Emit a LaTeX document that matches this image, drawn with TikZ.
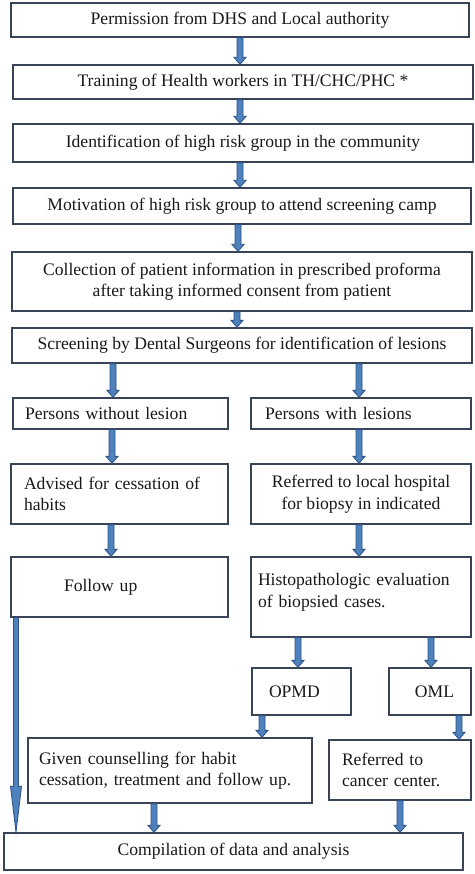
\documentclass[tikz,border=0pt]{standalone}
\usepackage{fontspec}
\setmainfont{Liberation Serif}
\usetikzlibrary{calc}
\definecolor{boxline}{RGB}{58,68,88}
\definecolor{arrfill}{RGB}{79,129,189}
\definecolor{arrline}{RGB}{44,82,135}
\definecolor{txt}{RGB}{25,25,25}
% #1 x, #2 from node, #3 to node, #4 half shaft, #5 half head, #6 head length
\newcommand\blockarr[6]{%
  \filldraw[arrstyle] let \p1=(#2.south), \p2=(#3.north), \p3=(#1,0) in
  (\x3-#4,\y1) -- (\x3+#4,\y1) -- (\x3+#4,\y2+#6) -- (\x3+#5,\y2+#6) --
  (\x3,\y2) -- (\x3-#5,\y2+#6) -- (\x3-#4,\y2+#6) -- cycle;}
\begin{document}
\begin{tikzpicture}[x=1pt,y=-1pt,
  box/.style={draw=boxline, line width=1.3pt, rectangle, inner sep=0pt,
    font=\fontsize{17.6}{21.5}\selectfont, text=txt},
  arrstyle/.style={fill=arrfill, draw=arrline, line width=0.8pt, line join=miter}]
\useasboundingbox[fill=white] (0,0) rectangle (474,874);

\node[box, minimum width=458pt, minimum height=34pt, align=center] (b1) at (240,20)
  {Permission from DHS and Local authority};
\node[box, minimum width=460pt, minimum height=34pt, align=center] (b2) at (243,82)
  {Training of Health workers in TH/CHC/PHC *};
\node[box, minimum width=460pt, minimum height=38pt, align=center] (b3) at (243,143)
  {Identification of high risk group in the community};
\node[box, minimum width=458pt, minimum height=36pt, align=center] (b4) at (242,206)
  {Motivation of high risk group to attend screening camp};
\node[box, minimum width=460pt, minimum height=59pt, align=center] (b5) at (242,281.5)
  {Collection of patient information in prescribed proforma\\after taking informed consent from patient};
\node[box, minimum width=460pt, minimum height=35pt, align=center] (b6) at (242,345.5)
  {Screening by Dental Surgeons for identification of lesions};

\node[box, minimum width=215pt, minimum height=31pt, text width=191pt, align=left] (b7l) at (120.5,413.5)
  {Persons without lesion};
\node[box, minimum width=220pt, minimum height=31pt, text width=192pt, align=left] (b7r) at (361,413.5)
  {Persons with lesions};

\node[box, minimum width=217pt, minimum height=60pt, text width=191pt, align=left] (b8l) at (119.5,494)
  {Advised for cessation of\\habits};
\node[box, minimum width=220pt, minimum height=60pt, align=center] (b8r) at (361,494)
  {Referred to local hospital\\for biopsy in indicated};

\node[box, minimum width=217pt, minimum height=60pt, text width=111pt, align=left] (b9l) at (119.5,587)
  {Follow up};
\node[box, minimum width=220pt, minimum height=80pt, text width=206pt, align=left] (b9r) at (361,597)
  {Histopathologic evaluation\\of biopsied cases.\\[-8pt]\mbox{}};

\node[box, minimum width=99pt, minimum height=47pt, text width=65pt, align=left] (opmd) at (301.5,691.5)
  {OPMD};
\node[box, minimum width=82pt, minimum height=47pt, text width=48pt, align=right] (oml) at (430,691.5)
  {OML};

\node[box, minimum width=284pt, minimum height=65pt, text width=262pt, align=left] (given) at (170,770.5)
  {Given counselling for habit\\cessation, treatment and follow up.};
\node[box, minimum width=142pt, minimum height=60pt, text width=116pt, align=left] (refcc) at (400,770)
  {Referred to\\cancer center.};

\node[box, minimum width=459pt, minimum height=37pt, align=center] (comp) at (233.5,851.5)
  {Compilation of data and analysis};

% arrows
\blockarr{240}{b1}{b2}{3pt}{6pt}{7pt}
\blockarr{240}{b2}{b3}{3pt}{6pt}{7pt}
\blockarr{240}{b3}{b4}{3pt}{6pt}{7pt}
\blockarr{238}{b4}{b5}{3pt}{6pt}{7pt}
\blockarr{237}{b5}{b6}{3pt}{6pt}{7pt}
\blockarr{113}{b6}{b7l}{3pt}{6pt}{7pt}
\blockarr{359}{b6}{b7r}{3pt}{6pt}{7pt}
\blockarr{112}{b7l}{b8l}{3pt}{6pt}{7pt}
\blockarr{359}{b7r}{b8r}{3pt}{6pt}{7pt}
\blockarr{111}{b8l}{b9l}{3pt}{6pt}{7pt}
\blockarr{359}{b8r}{b9r}{3pt}{6pt}{7pt}
\blockarr{16}{b9l}{comp}{2.5pt}{5.5pt}{46pt}
\blockarr{298}{b9r}{opmd}{3pt}{6pt}{7pt}
\blockarr{431}{b9r}{oml}{3pt}{6pt}{7pt}
\blockarr{262}{opmd}{given}{3pt}{6pt}{7pt}
\blockarr{459}{oml}{refcc}{3pt}{6pt}{7pt}
\blockarr{154}{given}{comp}{3pt}{6pt}{7pt}
\blockarr{400}{refcc}{comp}{3pt}{6pt}{7pt}
\end{tikzpicture}
\end{document}
